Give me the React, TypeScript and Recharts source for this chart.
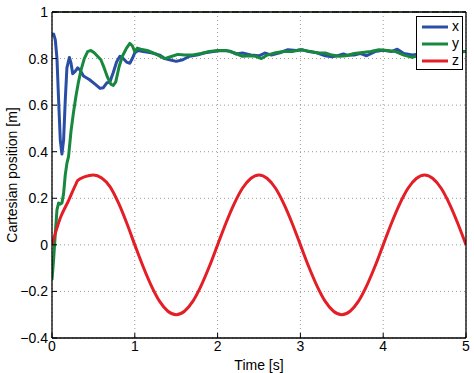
import React from 'react';
import { LineChart, Line, XAxis, YAxis, CartesianGrid, ReferenceLine } from 'recharts';

// Time stamps [s] and Cartesian positions [m]
const timeX = [0, 0.02, 0.04, 0.06, 0.08, 0.1, 0.12, 0.14, 0.16, 0.18, 0.21, 0.23, 0.25, 0.28, 0.31, 0.34, 0.38, 0.45, 0.52, 0.58, 0.62, 0.66, 0.7, 0.74, 0.78, 0.82, 0.86, 0.9, 0.94, 0.97, 1.0, 1.04, 1.1, 1.2, 1.3, 1.36, 1.42, 1.5, 1.58, 1.66, 1.75, 1.85, 1.95, 2.05, 2.15, 2.22, 2.3, 2.4, 2.5, 2.57, 2.65, 2.75, 2.85, 2.95, 3.02, 3.1, 3.2, 3.3, 3.38, 3.45, 3.52, 3.57, 3.65, 3.72, 3.8, 3.9, 4.0, 4.1, 4.17, 4.25, 4.35, 4.45, 4.6, 4.75, 4.9, 5.0];
const posX = [0.9, 0.905, 0.88, 0.8, 0.62, 0.45, 0.39, 0.45, 0.62, 0.76, 0.805, 0.78, 0.735, 0.745, 0.76, 0.75, 0.725, 0.71, 0.69, 0.672, 0.675, 0.695, 0.7, 0.74, 0.785, 0.81, 0.8, 0.785, 0.78, 0.8, 0.825, 0.835, 0.83, 0.825, 0.815, 0.8, 0.795, 0.788, 0.795, 0.81, 0.815, 0.825, 0.83, 0.835, 0.832, 0.82, 0.824, 0.815, 0.812, 0.824, 0.815, 0.825, 0.838, 0.835, 0.838, 0.83, 0.825, 0.812, 0.808, 0.812, 0.82, 0.814, 0.815, 0.822, 0.812, 0.83, 0.836, 0.83, 0.84, 0.822, 0.815, 0.82, 0.83, 0.825, 0.83, 0.83];

const timeY = [0, 0.02, 0.04, 0.06, 0.08, 0.1, 0.12, 0.14, 0.16, 0.18, 0.2, 0.23, 0.26, 0.29, 0.32, 0.35, 0.39, 0.43, 0.47, 0.51, 0.55, 0.59, 0.63, 0.67, 0.71, 0.74, 0.77, 0.81, 0.85, 0.9, 0.94, 0.97, 1.0, 1.03, 1.07, 1.15, 1.25, 1.36, 1.45, 1.52, 1.6, 1.7, 1.8, 1.9, 2.0, 2.1, 2.2, 2.3, 2.4, 2.46, 2.53, 2.6, 2.7, 2.8, 2.9, 3.0, 3.1, 3.2, 3.3, 3.38, 3.47, 3.55, 3.65, 3.75, 3.85, 3.95, 4.05, 4.15, 4.25, 4.35, 4.5, 4.65, 4.8, 5.0];
const posY = [-0.15, -0.06, 0.05, 0.15, 0.18, 0.175, 0.18, 0.22, 0.3, 0.35, 0.38, 0.49, 0.57, 0.64, 0.7, 0.75, 0.8, 0.83, 0.835, 0.825, 0.81, 0.795, 0.76, 0.72, 0.69, 0.685, 0.7, 0.765, 0.81, 0.845, 0.865, 0.855, 0.83, 0.845, 0.84, 0.835, 0.82, 0.8, 0.81, 0.818, 0.815, 0.815, 0.822, 0.83, 0.835, 0.835, 0.825, 0.81, 0.812, 0.81, 0.8, 0.815, 0.825, 0.83, 0.83, 0.838, 0.832, 0.825, 0.824, 0.815, 0.81, 0.812, 0.822, 0.826, 0.83, 0.838, 0.835, 0.83, 0.815, 0.805, 0.82, 0.83, 0.825, 0.83];

const timeZ = [0, 0.1, 0.2, 0.29, 0.31, 0.4, 0.5, 0.6, 0.7, 0.8, 0.9, 1.0, 1.1, 1.2, 1.3, 1.4, 1.5, 1.6, 1.7, 1.8, 1.9, 2.0, 2.1, 2.2, 2.3, 2.4, 2.5, 2.6, 2.7, 2.8, 2.9, 3.0, 3.1, 3.2, 3.3, 3.4, 3.5, 3.6, 3.7, 3.8, 3.9, 4.0, 4.1, 4.2, 4.3, 4.4, 4.5, 4.6, 4.7, 4.8, 4.9, 5.0];
const posZ = [0, 0.115, 0.19, 0.262, 0.276, 0.293, 0.3, 0.287, 0.25, 0.182, 0.096, 0, -0.093, -0.176, -0.243, -0.285, -0.3, -0.285, -0.243, -0.176, -0.093, 0, 0.093, 0.176, 0.243, 0.285, 0.3, 0.285, 0.243, 0.176, 0.093, 0, -0.093, -0.176, -0.243, -0.285, -0.3, -0.285, -0.243, -0.176, -0.093, 0, 0.093, 0.176, 0.243, 0.285, 0.3, 0.285, 0.243, 0.176, 0.093, 0];

const seriesNames = ['x', 'y', 'z'];
const seriesColors = ['#2a4ea5', '#17883d', '#e31e26'];

const xTicks = [0, 1, 2, 3, 4, 5];
const yTicks = [-0.4, -0.2, 0, 0.2, 0.4, 0.6, 0.8, 1];
const referenceValue = 1;

const xLabel = 'Time [s]';
const yLabel = 'Cartesian position [m]';

const FONT = '"Liberation Sans", Arial, Helvetica, sans-serif';

const dataX = timeX.map((t, i) => ({ t, v: posX[i] }));
const dataY = timeY.map((t, i) => ({ t, v: posY[i] }));
const dataZ = timeZ.map((t, i) => ({ t, v: posZ[i] }));
const allData = [dataX, dataY, dataZ];

const fmtY = (v: number) => {
  if (v === 0) return '0';
  if (v === 1) return '1';
  const s = Math.abs(v).toFixed(1);
  return v < 0 ? '\u2212' + s : s;
};

const tickStyle = { fill: '#000', fontSize: 14, fontFamily: FONT };

export default function App() {
  return (
    <div style={{ position: 'absolute', left: 0, top: 0, width: 474, height: 373, background: '#fff' }}>
      <LineChart width={474} height={373} margin={{ top: 11, right: 0, bottom: 8, left: 8 }}>
        <CartesianGrid stroke="#9a9a9a" strokeDasharray="1 3" strokeWidth={1} xAxisId={0} yAxisId={0} />
        <XAxis
          xAxisId={0}
          dataKey="t"
          type="number"
          domain={[0, 5]}
          ticks={xTicks}
          allowDataOverflow
          height={27}
          tickSize={-5}
          tickMargin={8}
          stroke="#000"
          tick={tickStyle}
          axisLine={{ stroke: '#000', strokeWidth: 1.3 }}
          tickLine={{ stroke: '#000' }}
        />
        <XAxis
          xAxisId="top"
          orientation="top"
          dataKey="t"
          type="number"
          domain={[0, 5]}
          ticks={xTicks}
          height={1}
          tickSize={-5}
          tickFormatter={() => ''}
          axisLine={{ stroke: '#000', strokeWidth: 1.3 }}
          tickLine={{ stroke: '#000' }}
        />
        <YAxis
          yAxisId={0}
          type="number"
          domain={[-0.4, 1]}
          ticks={yTicks}
          allowDataOverflow
          width={44}
          tickSize={-5}
          tickMargin={9}
          tickFormatter={fmtY}
          tick={tickStyle}
          axisLine={{ stroke: '#000', strokeWidth: 1.3 }}
          tickLine={{ stroke: '#000' }}
        />
        <YAxis
          yAxisId="right"
          orientation="right"
          type="number"
          domain={[-0.4, 1]}
          ticks={yTicks}
          width={8}
          tickSize={-5}
          tickFormatter={() => ''}
          axisLine={{ stroke: '#000', strokeWidth: 1.3 }}
          tickLine={{ stroke: '#000' }}
        />
        <ReferenceLine
          xAxisId={0}
          yAxisId={0}
          y={referenceValue}
          stroke={seriesColors[1]}
          strokeWidth={1.6}
          strokeDasharray="7 3"
        />
        {seriesNames.map((n, i) => (
          <Line
            key={n}
            xAxisId={0}
            yAxisId={0}
            data={allData[i]}
            dataKey="v"
            name={n}
            type={i === 2 ? 'monotone' : 'linear'}
            stroke={seriesColors[i]}
            strokeWidth={3}
            dot={false}
            activeDot={false}
            isAnimationActive={false}
            strokeLinejoin="round"
          />
        ))}
      </LineChart>
      <div
        style={{
          position: 'absolute',
          left: 416,
          top: 16,
          width: 45,
          height: 51,
          paddingTop: 1,
          border: '1px solid #000',
          background: '#fff',
          fontFamily: FONT,
          fontSize: 14,
          color: '#000',
        }}
      >
        {seriesNames.map((n, i) => (
          <div key={n} style={{ display: 'flex', alignItems: 'center', height: 17 }}>
            <svg width={35} height={10} style={{ display: 'block' }}>
              <line x1={5} x2={31} y1={5} y2={5} stroke={seriesColors[i]} strokeWidth={3} />
            </svg>
            <span style={{ lineHeight: '17px' }}>{n}</span>
          </div>
        ))}
      </div>
      <div
        style={{
          position: 'absolute',
          left: 259,
          top: 365,
          transform: 'translate(-50%, -50%)',
          fontFamily: FONT,
          fontSize: 14,
          lineHeight: '16px',
          whiteSpace: 'nowrap',
          color: '#000',
        }}
      >
        {xLabel}
      </div>
      <div
        style={{
          position: 'absolute',
          left: 12,
          top: 175,
          transform: 'translate(-50%, -50%) rotate(-90deg)',
          fontFamily: FONT,
          fontSize: 14,
          lineHeight: '16px',
          whiteSpace: 'nowrap',
          color: '#000',
        }}
      >
        {yLabel}
      </div>
    </div>
  );
}
